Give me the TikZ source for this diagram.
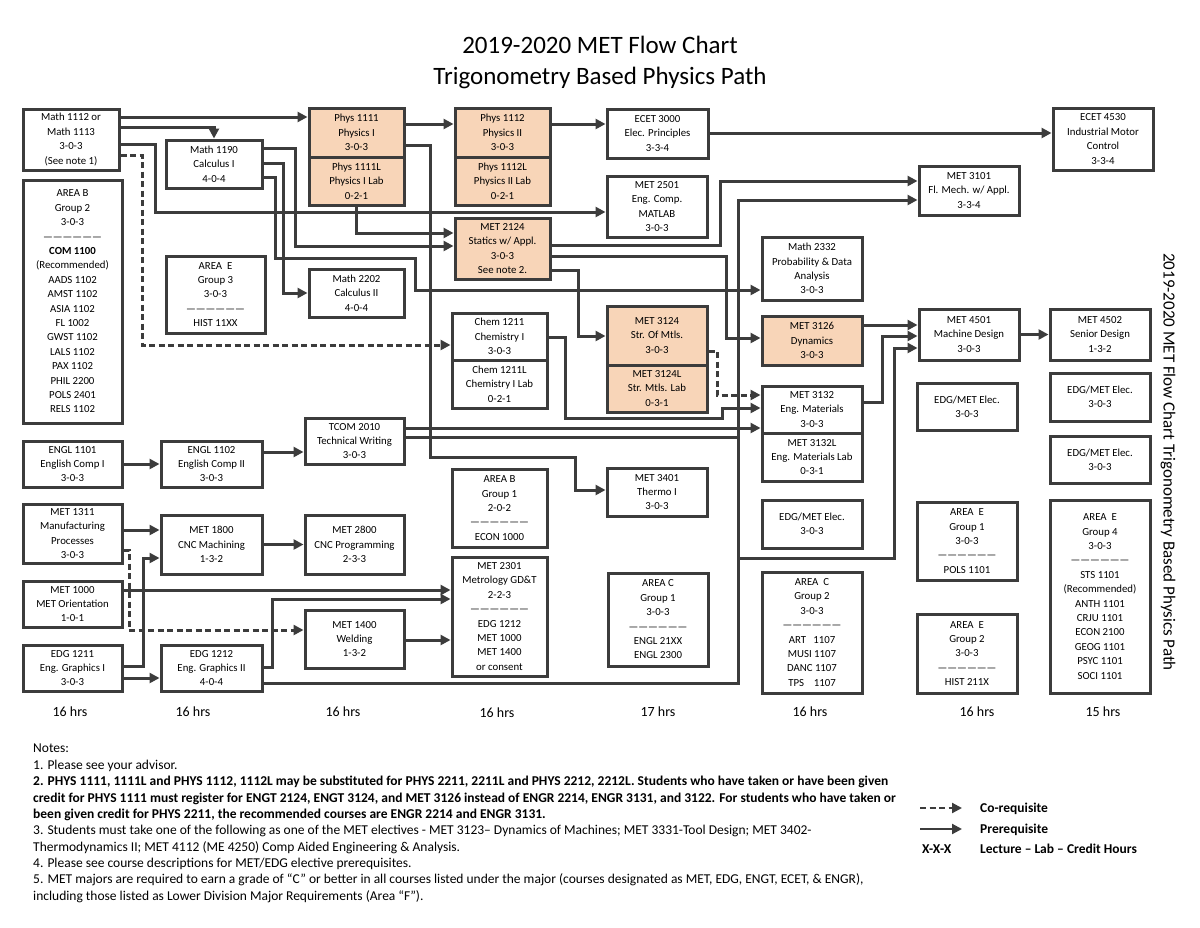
\documentclass[tikz,border=0pt]{standalone}
\usepackage{fontspec}
\setmainfont{Carlito}
\usetikzlibrary{arrows.meta}
\definecolor{ln}{HTML}{3C3C3C}
\definecolor{org}{HTML}{F8D5B8}
\begin{document}
\begin{tikzpicture}[x=1pt,y=-1pt,
 bx/.style={draw=ln,line width=3pt,fill=white,align=center,inner sep=0.5pt,font=\fontsize{10.8}{14.4}\selectfont},
 ob/.style={bx,fill=org},
 ar/.style={draw=ln,line width=3pt,-{Triangle[length=10pt,width=10pt]}},
 da/.style={ar,dashed,dash pattern=on 6pt off 3.5pt},
 hrs/.style={font=\fontsize{14}{16}\selectfont},
 nt/.style={anchor=base west,inner sep=0pt,font=\fontsize{13.5}{16}\selectfont},
 ntb/.style={nt,font=\fontsize{13.5}{16}\selectfont\bfseries}]
\useasboundingbox (0,0) rectangle (1200,927);
\fill[white] (0,0) rectangle (1200,927);
\node[font=\fontsize{25}{28}\selectfont] (t1) at (600,45) {2019-2020 MET Flow Chart};
\node[font=\fontsize{25}{28}\selectfont] (t2) at (600,78) {Trigonometry Based Physics Path};
\node[rotate=-90,font=\fontsize{17}{20}\selectfont] (side) at (1168,462) {2019-2020 MET Flow Chart Trigonometry Based Physics Path};
\def\dl{——————}
% column 1
\node[bx,minimum width=96pt,minimum height=61pt] (m1112) at (71,139.5) {Math 1112 or\\Math 1113\\3-0-3\\(See note 1)};
\node[bx,minimum width=99pt,minimum height=243pt] (ab2) at (72.5,301.5) {AREA B\\Group 2\\3-0-3\\\dl\\\textbf{COM 1100}\\(Recommended)\\AADS 1102\\AMST 1102\\ASIA 1102\\FL 1002\\GWST 1102\\LALS 1102\\PAX 1102\\PHIL 2200\\POLS 2401\\RELS 1102};
\node[bx,minimum width=99pt,minimum height=46pt] (e1101) at (72.5,464) {ENGL 1101\\English Comp I\\3-0-3};
\node[bx,minimum width=99pt,minimum height=59pt] (m1311) at (72.5,533.5) {MET 1311\\Manufacturing\\Processes\\3-0-3};
\node[bx,minimum width=99pt,minimum height=46pt] (m1000) at (72.5,604) {MET 1000\\MET Orientation\\1-0-1};
\node[bx,minimum width=99pt,minimum height=46pt] (g1211) at (72.5,668) {EDG 1211\\Eng. Graphics I\\3-0-3};
% column 2
\node[bx,minimum width=96pt,minimum height=48pt] (m1190) at (214,164) {Math 1190\\Calculus I\\4-0-4};
\node[bx,minimum width=99pt,minimum height=77pt] (ae3) at (215.5,294.5) {AREA\ \ E\\Group 3\\3-0-3\\\dl\\HIST 11XX};
\node[bx,minimum width=101pt,minimum height=46pt] (e1102) at (211.5,464) {ENGL 1102\\English Comp II\\3-0-3};
\node[bx,minimum width=101pt,minimum height=59pt] (m1800) at (211.5,544.5) {MET 1800\\CNC Machining\\1-3-2};
\node[bx,minimum width=101pt,minimum height=46pt] (g1212) at (211.5,668) {EDG 1212\\Eng. Graphics II\\4-0-4};
% column 3
\node[ob,minimum width=95pt,minimum height=49pt] (p1111) at (356.5,132.5) {Phys 1111\\Physics I\\3-0-3};
\node[ob,minimum width=95pt,minimum height=48pt] (p1111l) at (356.5,181) {Phys 1111L\\Physics I Lab\\0-2-1};
\node[bx,minimum width=95pt,minimum height=48pt] (m2202) at (356.5,293) {Math 2202\\Calculus II\\4-0-4};
\node[bx,minimum width=99pt,minimum height=46pt] (tcom) at (354.5,441) {TCOM 2010\\Technical Writing\\3-0-3};
\node[bx,minimum width=99pt,minimum height=59pt] (m2800) at (354.5,544.5) {MET 2800\\CNC Programming\\2-3-3};
\node[bx,minimum width=99pt,minimum height=58pt] (m1400) at (354.5,639) {MET 1400\\Welding\\1-3-2};
% column 4
\node[ob,minimum width=95pt,minimum height=49pt] (p1112) at (502.5,132.5) {Phys 1112\\Physics II\\3-0-3};
\node[ob,minimum width=95pt,minimum height=48pt] (p1112l) at (502.5,181) {Phys 1112L\\Physics II Lab\\0-2-1};
\node[ob,minimum width=95pt,minimum height=61pt] (m2124) at (502.5,248.5) {MET 2124\\Statics w/ Appl.\\3-0-3\\See note 2.};
\node[bx,minimum width=95pt,minimum height=47pt] (chem) at (499.5,336.5) {Chem 1211\\Chemistry I\\3-0-3};
\node[bx,minimum width=95pt,minimum height=48pt] (cheml) at (499.5,384) {Chem 1211L\\Chemistry I Lab\\0-2-1};
\node[bx,minimum width=95pt,minimum height=78pt] (ab1) at (499.5,508) {AREA B\\Group 1\\2-0-2\\\dl\\ECON 1000};
\node[bx,minimum width=95pt,minimum height=119pt] (m2301) at (499.5,616.5) {MET 2301\\Metrology GD\&T\\2-2-3\\\dl\\EDG 1212\\MET 1000\\MET 1400\\or consent};
% column 5
\node[bx,minimum width=101pt,minimum height=49pt] (ec3000) at (657.5,133.5) {ECET 3000\\Elec. Principles\\3-3-4};
\node[bx,minimum width=100pt,minimum height=61pt] (m2501) at (657,206.5) {MET 2501\\Eng. Comp.\\MATLAB\\3-0-3};
\node[ob,minimum width=100pt,minimum height=59pt] (m3124) at (657,335.5) {MET 3124\\Str. Of Mtls.\\3-0-3};
\node[ob,minimum width=100pt,minimum height=47pt] (m3124l) at (657,388.5) {MET 3124L\\Str. Mtls. Lab\\0-3-1};
\node[bx,minimum width=100pt,minimum height=48pt] (m3401) at (657,492) {MET 3401\\Thermo I\\3-0-3};
\node[bx,minimum width=100pt,minimum height=93pt] (ac1) at (658,619.5) {AREA C\\Group 1\\3-0-3\\\dl\\ENGL 21XX\\ENGL 2300};
% column 6
\node[bx,minimum width=100pt,minimum height=63pt] (m2332) at (812,268.5) {Math 2332\\Probability \& Data\\Analysis\\3-0-3};
\node[ob,minimum width=100pt,minimum height=49pt] (m3126) at (812,340.5) {MET 3126\\Dynamics\\3-0-3};
\node[bx,minimum width=100pt,minimum height=47pt] (m3132) at (812,409.5) {MET 3132\\Eng. Materials\\3-0-3};
\node[bx,minimum width=100pt,minimum height=48pt] (m3132l) at (812,457) {MET 3132L\\Eng. Materials Lab\\0-3-1};
\node[bx,minimum width=100pt,minimum height=48pt] (el6) at (812,524) {EDG/MET Elec.\\3-0-3};
\node[bx,minimum width=100pt,minimum height=121pt] (ac2) at (812,632.5) {AREA\ \ C\\Group 2\\3-0-3\\\dl\\ART\ \ \ 1107\\MUSI 1107\\DANC 1107\\TPS\ \ \ \ 1107};
% column 7
\node[bx,minimum width=100pt,minimum height=49pt] (m3101) at (969,190.5) {MET 3101\\Fl. Mech. w/ Appl.\\3-3-4};
\node[bx,minimum width=100pt,minimum height=51pt] (m4501) at (969,334.5) {MET 4501\\Machine Design\\3-0-3};
\node[bx,minimum width=100pt,minimum height=47pt] (el7) at (967,406.5) {EDG/MET Elec.\\3-0-3};
\node[bx,minimum width=100pt,minimum height=78pt] (ae1) at (967,541) {AREA\ \ E\\Group 1\\3-0-3\\\dl\\POLS 1101};
\node[bx,minimum width=100pt,minimum height=79pt] (ae2) at (967,653.5) {AREA\ \ E\\Group 2\\3-0-3\\\dl\\HIST 211X};
% column 8
\node[bx,minimum width=100pt,minimum height=62pt] (ec4530) at (1103,139) {ECET 4530\\Industrial Motor\\Control\\3-3-4};
\node[bx,minimum width=100pt,minimum height=51pt] (m4502) at (1100,334.5) {MET 4502\\Senior Design\\1-3-2};
\node[bx,minimum width=100pt,minimum height=48pt] (el8a) at (1100,397) {EDG/MET Elec.\\3-0-3};
\node[bx,minimum width=100pt,minimum height=47pt] (el8b) at (1100,459.5) {EDG/MET Elec.\\3-0-3};
\node[bx,minimum width=100pt,minimum height=193pt] (ae4) at (1100,596.5) {AREA\ \ E\\Group 4\\3-0-3\\\dl\\STS 1101\\(Recommended)\\ANTH 1101\\CRJU 1101\\ECON 2100\\GEOG 1101\\PSYC 1101\\SOCI 1101};
% hours
\node[hrs] (h1) at (70,712) {16 hrs};
\node[hrs] (h2) at (193,712) {16 hrs};
\node[hrs] (h3) at (343,712) {16 hrs};
\node[hrs] (h4) at (497,713) {16 hrs};
\node[hrs] (h5) at (658,712) {17 hrs};
\node[hrs] (h6) at (810,712) {16 hrs};
\node[hrs] (h7) at (977,712) {16 hrs};
\node[hrs] (h8) at (1103,712) {15 hrs};
% connectors
\draw[ar] (m1112.east|-0,117) -- (p1111.west|-0,117);
\draw[ar] (m1112.east|-0,127) -| (m1190.north);
\draw[ar] (m1112.east|-0,144) -- (155,144) -- (155,212) -- (m2501.west|-0,212);
\draw[da] (m1112.east|-0,155) -- (142,155) -- (142,345) -- (chem.west|-0,345);
\draw[ar] (m1190.east|-0,148) -- (295,148) -- (295,246) -- (m2124.west|-0,246);
\draw[ar] (m1190.east|-0,163) -- (283,163) -- (283,293) -- (m2202.west|-0,293);
\draw[ar] (m1190.east|-0,177) -- (275,177) -- (275,258) -- (415,258) -- (415,290) -- (m2332.west|-0,290);
\draw[ar] (p1111l.south) -- (356.5,233) -- (m2124.west|-0,233);
\draw[ar] (p1111.east|-0,124) -- (p1112.west|-0,124);
\draw[ar] (p1111.east|-0,145) -- (430,145) -- (430,457) -- (575,457) -- (575,490) -- (m3401.west|-0,490);
\draw[ar] (p1112.east|-0,124) -- (ec3000.west|-0,124);
\draw[ar] (ec3000.east|-0,133) -- (ec4530.west|-0,133);
\draw[ar] (m2124.east|-0,245) -- (720,245) -- (720,181) -- (m3101.west|-0,181);
\draw[ar] (m2124.east|-0,256) -- (726,256) -- (726,338) -- (m3126.west|-0,338);
\draw[ar] (m2124.east|-0,270) -- (578,270) -- (578,336) -- (m3124.west|-0,336);
\draw[da] (m3124.east|-0,351) -- (717,351) -- (717,395) -- (m3132.west|-0,395);
\draw[ar] (chem.east|-0,337) -- (565,337) -- (565,418) -- (722,418) -- (722,408) -- (m3132.west|-0,408);
\draw[ar] (tcom.east|-0,428) -- (m3132.west|-0,428);
\draw[ar] (tcom.east|-0,437) -- (738,437) -- (738,200) -- (m3101.west|-0,200);
\draw[ar] (g1212.east|-0,683) -- (738,683) -- (738,558) -- (894,558) -- (894,348) -- (m4501.west|-0,348);
\draw[draw=ln,line width=3pt] (738,560) -- (738,437);
\draw[ar] (e1101) -- (e1102);
\draw[ar] (e1102.east|-0,452) -- (tcom.west|-0,452);
\draw[ar] (m1311.east|-0,530) -- (m1800.west|-0,530);
\draw[da] (m1311.east|-0,550) -- (129,550) -- (129,630) -- (m1400.west|-0,630);
\draw[ar] (g1211.east|-0,666) -- (143,666) -- (143,558) -- (m1800.west|-0,558);
\draw[ar] (g1211.east|-0,678) -- (g1212.west|-0,678);
\draw[ar] (m1800) -- (m2800);
\draw[ar] (m1000.east|-0,590) -- (m2301.west|-0,590);
\draw[ar] (g1212.east|-0,667) -- (272,667) -- (272,599) -- (m2301.west|-0,599);
\draw[ar] (m1400.east|-0,640) -- (m2301.west|-0,640);
\draw[ar] (m3126.east|-0,325) -- (m4501.west|-0,325);
\draw[ar] (m3132.east|-0,402) -- (882,402) -- (882,336) -- (m4501.west|-0,336);
\draw[ar] (m4501) -- (m4502);
% notes
\node[nt] (n0) at (33,752) {Notes:};
\node[nt] (n1) at (33,769) {1. Please see your advisor.};
\node[ntb] (n2) at (33,785) {2. PHYS 1111, 1111L and PHYS 1112, 1112L may be substituted for PHYS 2211, 2211L and PHYS 2212, 2212L. Students who have taken or have been given};
\node[ntb] (n3) at (33,802) {credit for PHYS 1111 must register for ENGT 2124, ENGT 3124, and MET 3126 instead of ENGR 2214, ENGR 3131, and 3122. For students who have taken or};
\node[ntb] (n4) at (33,818) {been given credit for PHYS 2211, the recommended courses are ENGR 2214 and ENGR 3131.};
\node[nt] (n5) at (33,834) {3. Students must take one of the following as one of the MET electives - MET 3123– Dynamics of Machines; MET 3331-Tool Design; MET 3402-};
\node[nt] (n6) at (33,851) {Thermodynamics II; MET 4112 (ME 4250) Comp Aided Engineering \& Analysis.};
\node[nt] (n7) at (33,867) {4. Please see course descriptions for MET/EDG elective prerequisites.};
\node[nt] (n8) at (33,883) {5. MET majors are required to earn a grade of “C” or better in all courses listed under the major (courses designated as MET, EDG, ENGT, ECET, \& ENGR),};
\node[nt] (n9) at (33,900) {including those listed as Lower Division Major Requirements (Area “F”).};
% legend
\coordinate (la1) at (920,808); \coordinate (la2) at (962,808);
\coordinate (lb1) at (920,829); \coordinate (lb2) at (962,829);
\draw[da,line width=2.2pt] (la1) -- (la2);
\draw[ar,line width=2.2pt] (lb1) -- (lb2);
\node[ntb] (l1) at (980,812) {Co-requisite};
\node[ntb] (l2) at (980,833) {Prerequisite};
\node[ntb] (l3) at (922,853) {X-X-X};
\node[ntb] (l4) at (980,853) {Lecture – Lab – Credit Hours};
\end{tikzpicture}
\end{document}
